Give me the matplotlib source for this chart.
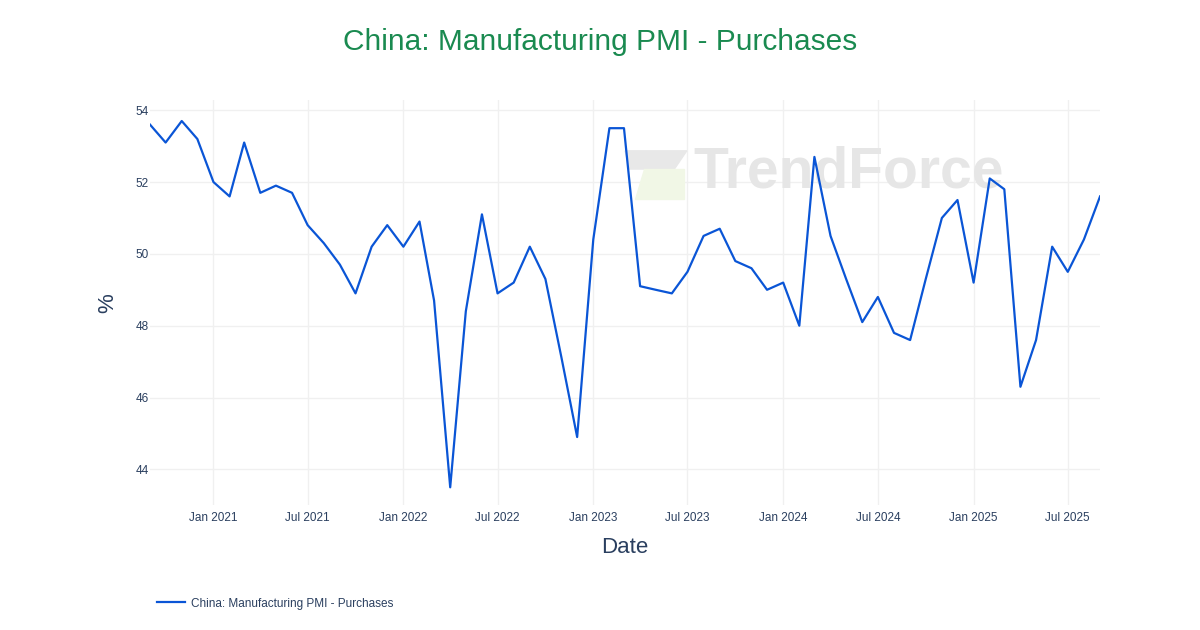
import matplotlib
matplotlib.use("Agg")
import matplotlib.pyplot as plt
import matplotlib.dates as mdates
from matplotlib.patches import Polygon
import numpy as np
import pandas as pd

# data (monthly, Sep 2020 - Sep 2025)
start_month = "2020-09-01"
pmi_purchases = [
    53.6, 53.1, 53.7, 53.2,
    52.0, 51.6, 53.1, 51.7, 51.9, 51.7, 50.8, 50.3, 49.7, 48.9, 50.2, 50.8,
    50.2, 50.9, 48.7, 43.5, 48.4, 51.1, 48.9, 49.2, 50.2, 49.3, 47.1, 44.9,
    50.4, 53.5, 53.5, 49.1, 49.0, 48.9, 49.5, 50.5, 50.7, 49.8, 49.6, 49.0,
    49.2, 48.0, 52.7, 50.5, 49.3, 48.1, 48.8, 47.8, 47.6, 49.3, 51.0, 51.5,
    49.2, 52.1, 51.8, 46.3, 47.6, 50.2, 49.5, 50.4, 51.6,
]
dates = pd.date_range(start_month, periods=len(pmi_purchases), freq="MS")
y_ticks = [44, 46, 48, 50, 52, 54]

title_color = "#1a8a50"
line_color = "#0a55d6"
text_color = "#2a3f5f"
grid_color = "#f0f0f0"

plt.rcParams["font.family"] = ["Liberation Sans", "DejaVu Sans"]

fig = plt.figure(figsize=(12, 6.3), dpi=100)
ax = fig.add_axes([0.125, 0.198, 0.7917, 0.643])

# watermark (behind the line)
ax.text(0.735, 0.822, "TrendForce", transform=ax.transAxes, fontsize=41,
        fontweight="bold", color="#e6e6e6", ha="center", va="center", zorder=1)
logo_grey = Polygon([[0.50, 0.875], [0.565, 0.875], [0.552, 0.83], [0.505, 0.83]],
                    closed=True, transform=ax.transAxes, color="#e8e8e8", zorder=1)
logo_green = Polygon([[0.52, 0.83], [0.562, 0.83], [0.562, 0.755], [0.51, 0.755]],
                     closed=True, transform=ax.transAxes, color="#f1f7e6", zorder=1)
ax.add_patch(logo_grey)
ax.add_patch(logo_green)

ax.plot(dates, pmi_purchases, color=line_color, linewidth=1.6,
        label="China: Manufacturing PMI - Purchases", zorder=3)

ax.set_xlim(dates[0], dates[-1])
ax.set_ylim(43.0, 54.28)
ax.set_yticks(y_ticks)
ax.xaxis.set_major_locator(mdates.MonthLocator(bymonth=[1, 7]))
ax.xaxis.set_major_formatter(mdates.DateFormatter("%b %Y"))

ax.set_facecolor("none")
ax.grid(True, color=grid_color, linewidth=1)
ax.set_axisbelow(True)
for s in ax.spines.values():
    s.set_visible(False)
ax.tick_params(length=0, labelsize=8.5, labelcolor=text_color)
ax.tick_params(axis="x", pad=5)
ax.tick_params(axis="y", pad=1)

ax.set_xlabel("Date", fontsize=16, color=text_color, labelpad=9)
ax.set_ylabel("%", fontsize=16, color=text_color, labelpad=12)

fig.suptitle("China: Manufacturing PMI - Purchases", fontsize=21.5,
             color=title_color, y=0.955)

fig.legend(loc="center left", bbox_to_anchor=(0.122, 0.042), frameon=False,
           fontsize=8.5, labelcolor=text_color, handlelength=2.4, handletextpad=0.5)

fig.savefig("out.png", dpi=100, facecolor="white")
